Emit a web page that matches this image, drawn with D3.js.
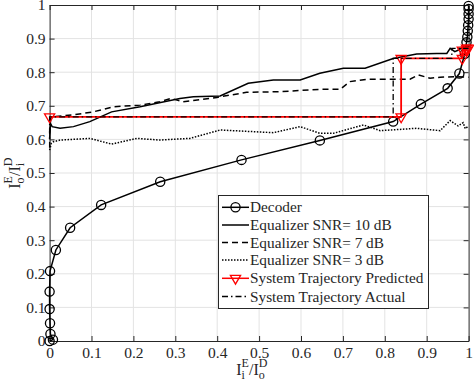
<!DOCTYPE html>
<html><head><meta charset="utf-8">
<script src="https://cdn.jsdelivr.net/npm/d3@7"></script>
<style>
html,body{margin:0;padding:0;background:#fff;}
svg text{font-family:"Liberation Serif","Times New Roman",serif;fill:#262626;}
</style></head>
<body><svg id="c" width="474" height="383"></svg>
<script>
// ---- data ----
const xTicks = [0,0.1,0.2,0.3,0.4,0.5,0.6,0.7,0.8,0.9,1];
const yTicks = [0,0.1,0.2,0.3,0.4,0.5,0.6,0.7,0.8,0.9,1];
const xTickLabels = ["0","0.1","0.2","0.3","0.4","0.5","0.6","0.7","0.8","0.9","1"];
const yTickLabels = ["0","0.1","0.2","0.3","0.4","0.5","0.6","0.7","0.8","0.9","1"];

const decoderX = [0,0.008,0.002,0.001,0,0,0.001,0.015,0.049,0.123,0.264,0.458,0.645,0.820,0.886,0.950,0.978,0.991,0.995,0.997,0.998,0.999,1,1,1,1];
const decoderY = [0,0.004,0.021,0.053,0.095,0.147,0.208,0.271,0.337,0.405,0.474,0.539,0.597,0.653,0.705,0.752,0.796,0.855,0.889,0.905,0.923,0.940,0.958,0.973,0.988,0.997];

const eq10X = [0,0.002,0.006,0.025,0.057,0.096,0.148,0.216,0.311,0.343,0.407,0.474,0.534,0.598,0.645,0.701,0.753,0.820,0.876,0.924,0.948,0.956,0.967,0.976,0.988,1.0];
const eq10Y = [0.600,0.648,0.638,0.633,0.638,0.653,0.682,0.697,0.722,0.727,0.729,0.767,0.777,0.777,0.797,0.812,0.812,0.841,0.854,0.856,0.856,0.871,0.861,0.866,0.876,0.880];

const eq7X = [0,0.003,0.009,0.057,0.104,0.152,0.216,0.263,0.290,0.319,0.399,0.470,0.550,0.645,0.693,0.717,0.757,0.860,0.880,0.908,0.932,0.972,1.0];
const eq7Y = [0.620,0.665,0.668,0.673,0.682,0.697,0.702,0.712,0.722,0.712,0.725,0.740,0.742,0.749,0.749,0.772,0.779,0.779,0.792,0.782,0.785,0.787,0.785];

const eq3X = [0,0.004,0.009,0.025,0.096,0.148,0.208,0.263,0.335,0.407,0.534,0.598,0.645,0.677,0.749,0.789,0.876,0.932,0.956,0.975,0.987,0.992,1.0];
const eq3Y = [0.568,0.588,0.593,0.598,0.603,0.586,0.603,0.598,0.603,0.628,0.620,0.638,0.618,0.618,0.643,0.626,0.633,0.626,0.656,0.640,0.650,0.632,0.640];

const predX = [0,0.839,0.839,0.985,0.985,0.995,0.995,1.0];
const predY = [0.667,0.667,0.841,0.841,0.866,0.866,0.872,0.872];

const actX = [0,0,0.820,0.820,0.960,0.960,1.0];
const actY = [0.575,0.667,0.667,0.841,0.841,0.871,0.871];

const legendLabels = ["Decoder","Equalizer SNR= 10 dB","Equalizer SNR= 7 dB","Equalizer SNR= 3 dB","System Trajectory Predicted","System Trajectory Actual"];

// ---- chart ----
const svg = d3.select("#c");
const L=49.6, R=468.6, T=5, B=341;
const x = d3.scaleLinear().domain([0,1]).range([L,R]);
const y = d3.scaleLinear().domain([0,1]).range([B,T]);
const zip = (a,b)=>a.map((v,i)=>[v,b[i]]);
const line = d3.line().x(d=>x(d[0])).y(d=>y(d[1]));

// grid
const grid = svg.append("g").attr("stroke","#e3e3e3").attr("stroke-width",1);
xTicks.slice(1,-1).forEach(t=>grid.append("line").attr("x1",x(t)).attr("x2",x(t)).attr("y1",T).attr("y2",B));
yTicks.slice(1,-1).forEach(t=>grid.append("line").attr("y1",y(t)).attr("y2",y(t)).attr("x1",L).attr("x2",R));

// axes
function styleAxis(g){ g.selectAll("path").attr("stroke","#262626"); g.selectAll("line").attr("stroke","#262626"); g.selectAll("text").attr("font-size","15.5px").attr("font-family","Liberation Serif, serif").attr("fill","#262626"); }
const fx = d=>xTickLabels[xTicks.indexOf(d)], fy = d=>yTickLabels[yTicks.indexOf(d)];
svg.append("g").attr("transform",`translate(0,${B})`).call(d3.axisBottom(x).tickValues(xTicks).tickFormat(fx).tickSizeInner(-5).tickSizeOuter(0).tickPadding(6)).call(styleAxis);
svg.append("g").attr("transform",`translate(${L},0)`).call(d3.axisLeft(y).tickValues(yTicks).tickFormat(fy).tickSizeInner(-5).tickSizeOuter(0).tickPadding(4)).call(styleAxis);
svg.append("g").attr("transform",`translate(0,${T})`).call(d3.axisTop(x).tickValues(xTicks).tickFormat("").tickSizeInner(-5).tickSizeOuter(0)).call(styleAxis);
svg.append("g").attr("transform",`translate(${R},0)`).call(d3.axisRight(y).tickValues(yTicks).tickFormat("").tickSizeInner(-5).tickSizeOuter(0)).call(styleAxis);

// series
const dec = zip(decoderX,decoderY);
svg.append("path").attr("d",line(dec)).attr("fill","none").attr("stroke","#000").attr("stroke-width",1.5);
svg.append("g").selectAll("circle").data(dec).join("circle").attr("cx",d=>x(d[0])).attr("cy",d=>y(d[1])).attr("r",4.6).attr("fill","none").attr("stroke","#000").attr("stroke-width",1.3);

svg.append("path").attr("d",line(zip(eq10X,eq10Y))).attr("fill","none").attr("stroke","#000").attr("stroke-width",1.5);
svg.append("path").attr("d",line(zip(eq7X,eq7Y))).attr("fill","none").attr("stroke","#000").attr("stroke-width",1.5).attr("stroke-dasharray","6,4");
svg.append("path").attr("d",line(zip(eq3X,eq3Y))).attr("fill","none").attr("stroke","#000").attr("stroke-width",1.5).attr("stroke-dasharray","1.5,1.5");

const tri = d3.symbol().type(d3.symbolTriangle).size(45);
const pred = zip(predX,predY);
svg.append("path").attr("d",line(pred)).attr("fill","none").attr("stroke","#ff0000").attr("stroke-width",1.8);
svg.append("g").selectAll("path").data(pred).join("path").attr("d",tri).attr("transform",d=>`translate(${x(d[0])},${y(d[1])}) rotate(180)`).attr("fill","none").attr("stroke","#ff0000").attr("stroke-width",1.3);

svg.append("path").attr("d",line(zip(actX,actY))).attr("fill","none").attr("stroke","#000").attr("stroke-width",1.3).attr("stroke-dasharray","6,3,1.5,3");

// legend
const lg = svg.append("g");
lg.append("rect").attr("x",218.5).attr("y",195.5).attr("width",210).attr("height",113).attr("fill","#fff").attr("stroke","#262626").attr("stroke-width",1);
const rowY = [207.3,225,242.5,260,278.3,296.5];
const styles = [
 {stroke:"#000",dash:null,circle:true},
 {stroke:"#000",dash:null},
 {stroke:"#000",dash:"6,4"},
 {stroke:"#000",dash:"1.5,1.5"},
 {stroke:"#ff0000",dash:null,tri:true},
 {stroke:"#000",dash:"6,3,1.5,3"}
];
legendLabels.forEach((lab,i)=>{
  const yy = rowY[i], s = styles[i];
  lg.append("line").attr("x1",222).attr("x2",249).attr("y1",yy).attr("y2",yy).attr("stroke",s.stroke).attr("stroke-width",1.5).attr("stroke-dasharray",s.dash);
  if(s.circle) lg.append("circle").attr("cx",235.5).attr("cy",yy).attr("r",4.6).attr("fill","none").attr("stroke","#000").attr("stroke-width",1.3);
  if(s.tri) lg.append("path").attr("d",tri).attr("transform",`translate(235.5,${yy}) rotate(180)`).attr("fill","none").attr("stroke","#ff0000").attr("stroke-width",1.3);
  lg.append("text").attr("x",250).attr("y",yy+5).attr("font-size","15.3px").text(lab);
});

// axis labels: single text element with stacked sub/superscripts via tspans
function richLabel(parent, parts){
  const t = parent.append("text").attr("x",0).attr("y",0).attr("font-size","16px");
  let level = 0;
  parts.forEach(p=>{
    if(p.main!==undefined){
      t.append("tspan").attr("dy",-level).attr("font-size","16px").text(p.main);
      level = 0;
    } else {
      const sub = t.append("tspan").attr("dy",4-level).attr("font-size","12px").text(p.sub);
      const w = sub.node().getComputedTextLength();
      t.append("tspan").attr("dx",-w).attr("dy",-12).attr("font-size","12px").text(p.sup);
      level = -8;
    }
  });
  return t.node().getComputedTextLength ? t.node().getBBox().width : 0;
}
const xl = svg.append("g");
const wx = richLabel(xl,[{main:"I"},{sub:"i",sup:"E"},{main:"/I"},{sub:"o",sup:"D"}]);
xl.attr("transform",`translate(${252-wx/2},375)`);
const yl = svg.append("g");
const wy = richLabel(yl,[{main:"I"},{sub:"o",sup:"E"},{main:"/I"},{sub:"i",sup:"D"}]);
yl.attr("transform",`translate(20,${173+wy/2}) rotate(-90)`);
</script></body></html>
